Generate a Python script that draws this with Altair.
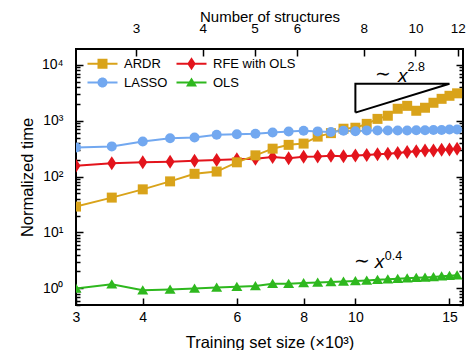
import altair as alt
import pandas as pd

# ---------------- data ----------------
train = [3.0, 3.5, 4.0, 4.5, 5.0, 5.5, 6.0, 6.5, 7.0, 7.5, 8.0, 8.5, 9.0,
         9.5, 10.0, 10.5, 11.0, 11.5, 12.0, 12.5, 13.0, 13.5, 14.0, 14.5, 15.0, 15.5]
ardr = [29, 42, 59, 82, 112, 123, 180, 240, 316, 370, 390, 520, 600,
        720, 750, 880, 1080, 1230, 1640, 1850, 1510, 1710, 2100, 2470, 2800, 3100]
lasso = [333, 347, 425, 487, 500, 560, 575, 585, 615, 640, 660, 645, 630,
         665, 648, 672, 672, 668, 668, 668, 675, 675, 685, 685, 695, 695]
rfe = [157, 173, 180, 185, 193, 199, 205, 208, 225, 212, 226, 228, 235,
       232, 238, 243, 250, 256, 265, 275, 284, 292, 293, 303, 304, 315]
ols = [0.99, 1.18, 0.92, 0.95, 0.99, 1.03, 1.06, 1.09, 1.2, 1.2, 1.24, 1.26, 1.29,
       1.32, 1.35, 1.38, 1.42, 1.44, 1.48, 1.51, 1.54, 1.56, 1.59, 1.63, 1.67, 1.71]

# legend fills column by column: ARDR, LASSO | RFE with OLS, OLS
methods = ["ARDR", "LASSO", "RFE with OLS", "OLS"]
colors = ["#d9a31a", "#72a8f0", "#e3141c", "#2eb81e"]
draw_order = ["RFE with OLS", "ARDR", "LASSO", "OLS"]
series = {"ARDR": ardr, "LASSO": lasso, "RFE with OLS": rfe, "OLS": ols}

# slope triangle (~x^2.8), in data units
tri_x = [10.0, 10.0, 15.0, 10.0]
tri_y = [1400, 4600, 4600, 1400]

x_ticks = [3, 4, 6, 8, 10, 15]
struct_ticks = [3, 4, 5, 6, 8, 10, 12]
y_ticks = [m * 10 ** e for e in range(-1, 5) for m in range(1, 10)]
y_ticks = [v for v in y_ticks if 0.5 <= v <= 19300]

rows = []
for m in draw_order:
    for t, v in zip(train, series[m]):
        rows.append({"train": t, "time": v, "method": m})
df = pd.DataFrame(rows)

# ---------------- scales / axes ----------------
W, H = 387, 256
xscale = alt.Scale(type="log", domain=[3, 15.9], nice=False)
yscale = alt.Scale(type="log", domain=[0.5, 19300], nice=False)
sscale = alt.Scale(type="log", domain=[3 / 1.2953, 15.9 / 1.2953], nice=False)
cscale = alt.Scale(domain=methods, range=colors)

FONT = "Liberation Sans"
major = "datum.value == 1 || datum.value == 10 || datum.value == 100 || datum.value == 1000 || datum.value == 10000"
ylab = ("datum.value == 1 ? '10\u2070' : datum.value == 10 ? '10\u00b9' : "
        "datum.value == 100 ? '10\u00b2' : datum.value == 1000 ? '10\u00b3' : "
        "datum.value == 10000 ? '10\u2074' : ''")

common = dict(domain=False, grid=False, tickColor="black", tickWidth=1.5,
              labelFont=FONT, labelColor="black",
              titleFont=FONT, titleFontWeight="normal",
              titleColor="black", labelFlush=False, labelOverlap=False)

xaxis = alt.Axis(values=x_ticks, format="d", orient="bottom", labelFontSize=14,
                 tickSize={"expr": "-7"}, labelPadding=12,
                 title="Training set size (\u00d710\u00b3)", titleFontSize=16.5,
                 titleX=W / 2, titleY=42, titleAlign="center",
                 titleBaseline="alphabetic", **common)
yaxis = alt.Axis(values=y_ticks, labelExpr=ylab, orient="left", labelFontSize=14,
                 tickSize={"condition": {"test": major, "value": -7}, "value": -4},
                 labelPadding=20, title="Normalized time", titleFontSize=16.5,
                 titleX=-49, titleY=H / 2, titleAngle=-90, titleAlign="center",
                 titleBaseline="middle", **common)
topaxis = alt.Axis(values=struct_ticks, format="d", orient="top", labelFontSize=13.5,
                   tickSize={"expr": "-7"}, labelPadding=21,
                   title="Number of structures", titleFontSize=15,
                   titleX=W / 2, titleY=-28, titleAlign="center",
                   titleBaseline="alphabetic", **common)
raxis = alt.Axis(values=y_ticks, labels=False, orient="right", title=None,
                 tickSize={"condition": {"test": major, "value": -7}, "value": -4},
                 **common)


def X(f):
    return alt.X(f, type="quantitative", scale=xscale, axis=xaxis)


def Y(f):
    return alt.Y(f, type="quantitative", scale=yscale, axis=yaxis)


mark_paths = [
    "M-1,-1H1V1H-1Z",
    "circle",
    "M0,-1.4L0.9,0L0,1.4L-0.9,0Z",
    "M0,-1L1.1,0.85L-1.1,0.85Z",
]
legend_paths = [
    "M-3,-0.2H3V0.2H-3Z M-1,-1H1V1H-1Z",
    "M-3,-0.2H3V0.2H-3Z M0,-1A1,1,0,1,1,0,1A1,1,0,1,1,0,-1Z",
    "M-3,-0.2H3V0.2H-3Z M0,-1.3L0.85,0L0,1.3L-0.85,0Z",
    "M-3,-0.2H3V0.2H-3Z M0,-1L1.1,0.8L-1.1,0.8Z",
]

legend = alt.Legend(title=None, orient="none", legendX=20, legendY=8,
                    columns=2, columnPadding=8, rowPadding=5,
                    symbolSize=100, symbolStrokeWidth=0, symbolOpacity=1,
                    labelOffset=15, labelFont=FONT, labelFontSize=13,
                    labelColor="black", padding=0)

lines = alt.Chart(df).mark_line(strokeWidth=2, clip=True).encode(
    x=X("train"), y=Y("time"),
    color=alt.Color("method:N", scale=cscale, legend=None),
    detail="method:N",
)
points = alt.Chart(df).mark_point(filled=True, size=100, opacity=1, clip=True).encode(
    x=X("train"), y=Y("time"),
    color=alt.Color("method:N", scale=cscale, legend=None),
    shape=alt.Shape("method:N", scale=alt.Scale(domain=methods, range=mark_paths), legend=None),
)
leg = alt.Chart(df).transform_filter("false").mark_point(filled=True, size=100, opacity=1).encode(
    x=X("train"), y=Y("time"),
    color=alt.Color("method:N", scale=cscale, legend=legend),
    shape=alt.Shape("method:N", scale=alt.Scale(domain=methods, range=legend_paths), legend=legend),
)

tri_df = pd.DataFrame({"tx": tri_x, "ty": tri_y, "k": list(range(len(tri_x)))})
tri = alt.Chart(tri_df).mark_line(color="black", strokeWidth=2, strokeJoin="miter").encode(
    x=X("tx"), y=Y("ty"), order="k:Q")

ann = pd.DataFrame({
    "ax": [11.26, 12.26, 12.52, 10.3, 11.1, 11.35],
    "ay": [6970, 6430, 9290, 3.02, 2.90, 3.71],
    "txt": ["\u223c", "x", "2.8", "\u223c", "x", "0.4"],
    "kind": ["t", "x", "e", "t", "x", "e"],
})


def txt_layer(kind, **kw):
    return alt.Chart(ann).transform_filter(f"datum.kind == '{kind}'").mark_text(
        font=FONT, color="black", baseline="middle", **kw).encode(
        x=X("ax"), y=Y("ay"), text="txt:N")


t_tilde = txt_layer("t", fontSize=19, align="center")
t_x = txt_layer("x", fontSize=19, fontStyle="italic", align="center")
t_e = txt_layer("e", fontSize=12.5, align="left")

inner = alt.layer(lines, points, leg, tri, t_tilde, t_x, t_e).resolve_scale(
    color="independent", shape="independent")

struct_df = pd.DataFrame({"n": [3, 12], "v": [1, 1]})
top = alt.Chart(struct_df).mark_point(opacity=0).encode(
    x=alt.X("n:Q", scale=sscale, axis=topaxis),
    y=alt.Y("v:Q", scale=yscale, axis=raxis),
)

chart = alt.layer(inner, top).resolve_scale(x="independent").resolve_axis(
    y="independent").properties(
    width=W, height=H,
    autosize=alt.AutoSizeParams(type="none"),
    padding={"left": 68, "top": 41, "right": 3, "bottom": 45},
    background="white",
).configure_view(stroke="black", strokeWidth=2)

chart.save("out.html", embed_options={"renderer": "svg", "actions": False})
